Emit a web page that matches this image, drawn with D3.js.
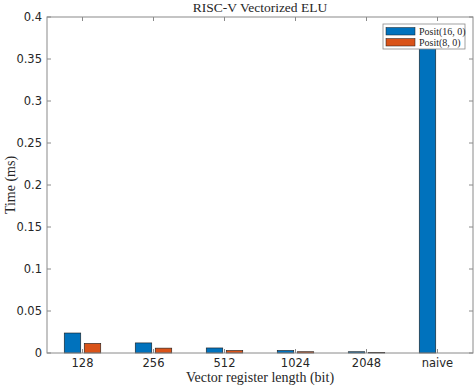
<!DOCTYPE html>
<html>
<head>
<meta charset="utf-8">
<script src="https://cdn.jsdelivr.net/npm/d3@7"></script>
<style>
  body { margin: 0; background: #fff; }
  .tick-label { font-family: "DejaVu Sans", sans-serif; font-size: 11.5px; fill: #262626; }
  .serif { font-family: "Liberation Serif", "DejaVu Serif", serif; fill: #262626; }
</style>
</head>
<body>
<div id="chart"></div>
<script>
var categories = ['128', '256', '512', '1024', '2048', 'naive'];
var posit16 = [0.0238, 0.0120, 0.0060, 0.0030, 0.0015, 0.375];
var posit8 = [0.0114, 0.0058, 0.0030, 0.0015, 0.0008, 0];
var seriesNames = ['Posit(16, 0)', 'Posit(8, 0)'];
var seriesColors = ['#0072BD', '#D95319'];
var yTicks = [0, 0.05, 0.1, 0.15, 0.2, 0.25, 0.3, 0.35, 0.4];

var W = 474, H = 387;
var margin = { top: 17, right: 1, bottom: 34, left: 47 };
var width = W - margin.left - margin.right,
    height = H - margin.top - margin.bottom;

var svg = d3.select('#chart')
    .append('svg')
    .attr('width', W)
    .attr('height', H);

var g = svg.append('g')
    .attr('transform', 'translate(' + margin.left + ',' + margin.top + ')');

var xScale = d3.scaleBand()
    .domain(categories)
    .range([0, width]);

var yScale = d3.scaleLinear()
    .domain([0, 0.4])
    .range([height, 0]);

// bars
var data = [];
categories.forEach(function(c, i) {
    data.push({ cat: c, series: seriesNames[0], value: posit16[i], color: seriesColors[0] });
    data.push({ cat: c, series: seriesNames[1], value: posit8[i], color: seriesColors[1] });
});

var barW = 16.5;
g.selectAll('.bar')
    .data(data.filter(function(d) { return d.value > 0; }))
    .enter()
    .append('rect')
    .attr('class', 'bar')
    .attr('x', function(d) {
        var c = xScale(d.cat) + xScale.bandwidth() / 2;
        var off = d.series === seriesNames[0] ? -10 : 10;
        return c + off - barW / 2;
    })
    .attr('width', barW)
    .attr('y', function(d) { return yScale(d.value); })
    .attr('height', function(d) { return yScale(0) - yScale(d.value); })
    .attr('fill', function(d) { return d.color; })
    .attr('stroke', '#1a1a1a')
    .attr('stroke-width', 0.6);

// axes box
var axisColor = '#8a8a8a';
g.append('rect')
    .attr('x', 0).attr('y', 0)
    .attr('width', width).attr('height', height)
    .attr('fill', 'none')
    .attr('stroke', axisColor)
    .attr('stroke-width', 1);

// y ticks (inward, left and right)
var tickLen = 4;
yTicks.forEach(function(t) {
    var y = yScale(t);
    g.append('line').attr('x1', 0).attr('x2', tickLen).attr('y1', y).attr('y2', y)
        .attr('stroke', axisColor);
    g.append('line').attr('x1', width).attr('x2', width - tickLen).attr('y1', y).attr('y2', y)
        .attr('stroke', axisColor);
    g.append('text')
        .attr('class', 'tick-label')
        .attr('x', -5)
        .attr('y', y)
        .attr('dy', '0.35em')
        .attr('text-anchor', 'end')
        .text(d3.format('')(t));
});

// x ticks (inward, bottom and top)
categories.forEach(function(c) {
    var x = xScale(c) + xScale.bandwidth() / 2;
    g.append('line').attr('x1', x).attr('x2', x).attr('y1', height).attr('y2', height - tickLen)
        .attr('stroke', axisColor);
    g.append('line').attr('x1', x).attr('x2', x).attr('y1', 0).attr('y2', tickLen)
        .attr('stroke', axisColor);
    g.append('text')
        .attr('class', 'tick-label')
        .attr('x', x)
        .attr('y', height + 14)
        .attr('text-anchor', 'middle')
        .text(c);
});

// title and labels
svg.append('text')
    .attr('class', 'serif')
    .attr('x', margin.left + width / 2)
    .attr('y', 12)
    .attr('text-anchor', 'middle')
    .style('font-size', '13.5px')
    .text('RISC-V Vectorized ELU');

svg.append('text')
    .attr('class', 'serif')
    .attr('x', margin.left + width / 2)
    .attr('y', 382)
    .attr('text-anchor', 'middle')
    .style('font-size', '14px')
    .text('Vector register length (bit)');

svg.append('text')
    .attr('class', 'serif')
    .attr('transform', 'translate(15,' + (margin.top + height / 2) + ') rotate(-90)')
    .attr('text-anchor', 'middle')
    .style('font-size', '14px')
    .text('Time (ms)');

// legend
var legend = svg.append('g').attr('transform', 'translate(383,24)');
legend.append('rect')
    .attr('width', 82).attr('height', 25)
    .attr('fill', '#fff')
    .attr('stroke', '#8a8a8a')
    .attr('stroke-width', 0.8);

seriesNames.forEach(function(name, i) {
    legend.append('rect')
        .attr('x', 3).attr('y', 3.5 + i * 11)
        .attr('width', 29).attr('height', 7.5)
        .attr('fill', seriesColors[i])
        .attr('stroke', '#1a1a1a')
        .attr('stroke-width', 0.5);
    legend.append('text')
        .attr('class', 'serif')
        .attr('x', 36)
        .attr('y', 7.5 + i * 11)
        .attr('dy', '0.35em')
        .style('font-size', '10px')
        .text(name);
});
</script>
</body>
</html>
